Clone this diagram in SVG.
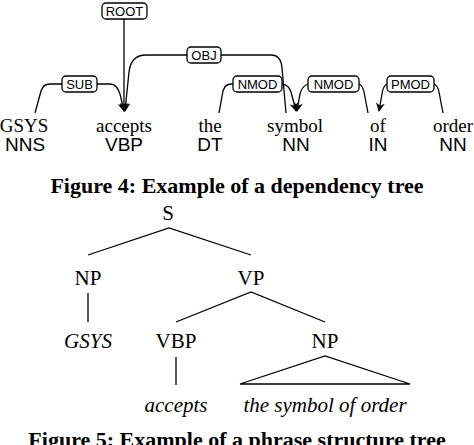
<svg xmlns="http://www.w3.org/2000/svg" width="474" height="445" viewBox="0 0 474 445">
<style>
.ln{fill:none;stroke:#000;stroke-width:1.3}
.arr{fill:none;stroke:#000;stroke-width:1.3;marker-end:url(#ah)}
.box{fill:#fff;stroke:#000;stroke-width:1.3}
.lbl{font-family:"Liberation Sans",Arial,sans-serif;font-size:13px;text-anchor:middle}
.w{font-family:"Liberation Serif","Times New Roman",serif;font-size:19px;text-anchor:middle}
.t{font-family:"Liberation Sans",Arial,sans-serif;font-size:19px;text-anchor:middle}
.p{font-family:"Liberation Serif","Times New Roman",serif;font-size:21px;text-anchor:middle}
.pi{font-family:"Liberation Serif","Times New Roman",serif;font-size:21px;font-style:italic;text-anchor:middle}
.cap{font-family:"Liberation Serif","Times New Roman",serif;font-size:22px;font-weight:bold;text-anchor:middle}
</style>
<defs>
<marker id="ah" viewBox="0 0 10 10" refX="9" refY="5" markerWidth="10" markerHeight="9" markerUnits="userSpaceOnUse" orient="auto">
<path d="M0,0 L10,5 L0,10 L3,5 z" fill="#000"/>
</marker>
</defs>
<g id="connectors">
<path class="arr" d="M124,19 L124,111"/>
<path class="arr" d="M187,55 H146 Q131,55 129,72 L125,111"/>
<path class="ln" d="M221,55 H271 Q281,55 282,68 L286,113"/>
<path class="ln" d="M35,113 L41,91 Q43,84 50,84 H62"/>
<path class="arr" d="M97,84 H110 Q117,84 120,94 L124,111"/>
<path class="ln" d="M219,113 L223,91 Q225,84 231,84 H233"/>
<path class="arr" d="M282,84 Q289,85 291,92 L296,111"/>
<path class="arr" d="M308,84 Q302,86 300,94 L297,111"/>
<path class="ln" d="M359,84 Q363,86 364,92 L368,113"/>
<path class="arr" d="M387,84 Q383,86 382,94 L379,111"/>
<path class="ln" d="M434,84 Q438,86 439,92 L443,113"/>
</g>
<g id="lbl-root"><rect class="box" x="102" y="3" width="45" height="16" rx="4"/><text class="lbl" x="124.5" y="16">ROOT</text></g>
<g id="lbl-obj"><rect class="box" x="187" y="47" width="34" height="16" rx="4"/><text class="lbl" x="204" y="60">OBJ</text></g>
<g id="lbl-sub"><rect class="box" x="62" y="76" width="35" height="16" rx="4"/><text class="lbl" x="79.5" y="89">SUB</text></g>
<g id="lbl-nmod1"><rect class="box" x="233" y="76" width="49" height="16" rx="4"/><text class="lbl" x="257.5" y="89">NMOD</text></g>
<g id="lbl-nmod2"><rect class="box" x="308" y="76" width="51" height="16" rx="4"/><text class="lbl" x="333.5" y="89">NMOD</text></g>
<g id="lbl-pmod"><rect class="box" x="387" y="76" width="47" height="16" rx="4"/><text class="lbl" x="410.5" y="89">PMOD</text></g>
<g id="w-gsys"><text class="w" x="24" y="131.5">GSYS</text><text class="t" x="25" y="150.5">NNS</text></g>
<g id="w-accepts"><text class="w" x="124" y="131.5">accepts</text><text class="t" x="124" y="150.5">VBP</text></g>
<g id="w-the"><text class="w" x="210" y="131.5">the</text><text class="t" x="210" y="150.5">DT</text></g>
<g id="w-symbol"><text class="w" x="295" y="131.5">symbol</text><text class="t" x="296" y="150.5">NN</text></g>
<g id="w-of"><text class="w" x="378" y="131.5">of</text><text class="t" x="378" y="150.5">IN</text></g>
<g id="w-order"><text class="w" x="453" y="131.5">order</text><text class="t" x="453" y="150.5">NN</text></g>
<text class="cap" x="237" y="193">Figure 4: Example of a dependency tree</text>
<g id="tree-edges">
<path class="ln" d="M88,255 L169,228 L251,255"/>
<path class="ln" d="M88,293 V322"/>
<path class="ln" d="M176,322 L251,292 L325,322"/>
<path class="ln" d="M176,357 V385"/>
<path class="ln" d="M240,384 L325,356 L410,384 Z"/>
</g>
<g id="n-s"><text class="p" x="168" y="220">S</text></g>
<g id="n-np1"><text class="p" x="88" y="285">NP</text></g>
<g id="n-vp"><text class="p" x="251" y="285">VP</text></g>
<g id="n-gsys"><text class="pi" x="88" y="348">GSYS</text></g>
<g id="n-vbp"><text class="p" x="176" y="348">VBP</text></g>
<g id="n-np2"><text class="p" x="325" y="348">NP</text></g>
<g id="n-accepts"><text class="pi" x="176" y="412">accepts</text></g>
<g id="n-rest"><text class="pi" x="325" y="412">the symbol of order</text></g>
<text class="cap" x="237" y="447">Figure 5: Example of a phrase structure tree</text>
</svg>
